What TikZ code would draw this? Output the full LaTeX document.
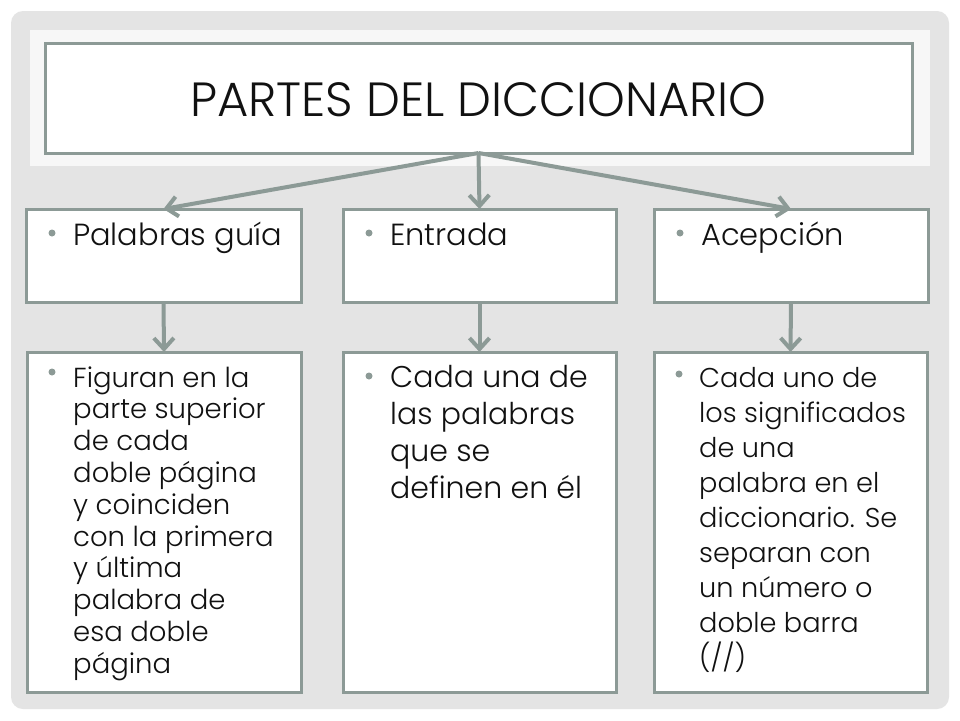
\documentclass[tikz,border=0pt]{standalone}
\usepackage{fontspec}
\setmainfont{Poppins}[UprightFont=* Light]
\usetikzlibrary{arrows.meta}
\definecolor{bd}{HTML}{8C9A96}
\definecolor{bgc}{HTML}{E4E4E4}
\definecolor{band}{HTML}{F7F7F7}
\definecolor{ink}{HTML}{111111}
\begin{document}
\begin{tikzpicture}[x=1pt,y=-1pt,
  box/.style={draw=bd, line width=3pt, fill=white, inner sep=0pt, outer sep=0pt, anchor=north west},
  arr/.style={draw=bd, line width=4pt, -{Straight Barb[length=11pt,width=20pt,line width=4pt]}},
  dot/.style={circle, fill=bd, inner sep=0pt, minimum size=7pt},
  txt/.style={inner sep=0pt, anchor=base west, text=ink}]
\useasboundingbox (0,0) rectangle (960,720);
\fill[white] (0,0) rectangle (960,720);
\fill[bgc, rounded corners=12pt] (11,11) rectangle (949,709);
\fill[band] (30,30) rectangle (930,166);
\node[box, minimum width=867pt, minimum height=110pt] (title) at (45,43) {};
\node[inner sep=0pt, anchor=base, text=ink] (tt) at (478.5,116) {\fontsize{48}{52}\selectfont PARTES DEL DICCIONARIO};
\node[box, minimum width=275pt, minimum height=93pt] (b1) at (26,209) {};
\node[box, minimum width=273pt, minimum height=93pt] (b2) at (343,209) {};
\node[box, minimum width=274pt, minimum height=93pt] (b3) at (654,209) {};
\node[box, minimum width=274pt, minimum height=340pt] (c1) at (27,352) {};
\node[box, minimum width=273pt, minimum height=340pt] (c2) at (343,352) {};
\node[box, minimum width=273pt, minimum height=340pt] (c3) at (654,352) {};
\draw[arr] (title.south) -- (b1.north);
\draw[arr] (title.south) -- (b2.north);
\draw[arr] (title.south) -- (b3.north);
\draw[arr] (b1.south) -- (c1.north);
\draw[arr] (b2.south) -- (c2.north);
\draw[arr] (b3.south) -- (c3.north);
\node[dot] (d1) at (52,233) {};
\node[dot] (d2) at (369,233) {};
\node[dot] (d3) at (680,233) {};
\node[dot] (e1) at (52,372) {};
\node[dot] (e2) at (369,376) {};
\node[dot] (e3) at (679,374) {};
\node[txt] (t1) at (73,245) {\fontsize{30.5}{36}\selectfont Palabras guía};
\node[txt] (t2) at (390,245) {\fontsize{30.5}{36}\selectfont Entrada};
\node[txt] (t3) at (701,245) {\fontsize{30.5}{36}\selectfont Acepción};
\node[txt] (u1) at (73,387) {\parbox[t]{230pt}{\fontsize{27.5}{31.8}\selectfont\raggedright Figuran en la\\parte superior\\de cada\\doble página\\y coinciden\\con la primera\\y última\\palabra de\\esa doble\\página}};
\node[txt] (u2) at (390,387) {\parbox[t]{230pt}{\fontsize{30}{37}\selectfont\raggedright Cada una de\\las palabras\\que se\\definen en él}};
\node[txt] (u3) at (699,387) {\parbox[t]{230pt}{\fontsize{27.2}{35.1}\selectfont\raggedright Cada uno de\\los significados\\de una\\palabra en el\\diccionario. Se\\separan con\\un número o\\doble barra\\(//)}};
\end{tikzpicture}
\end{document}
